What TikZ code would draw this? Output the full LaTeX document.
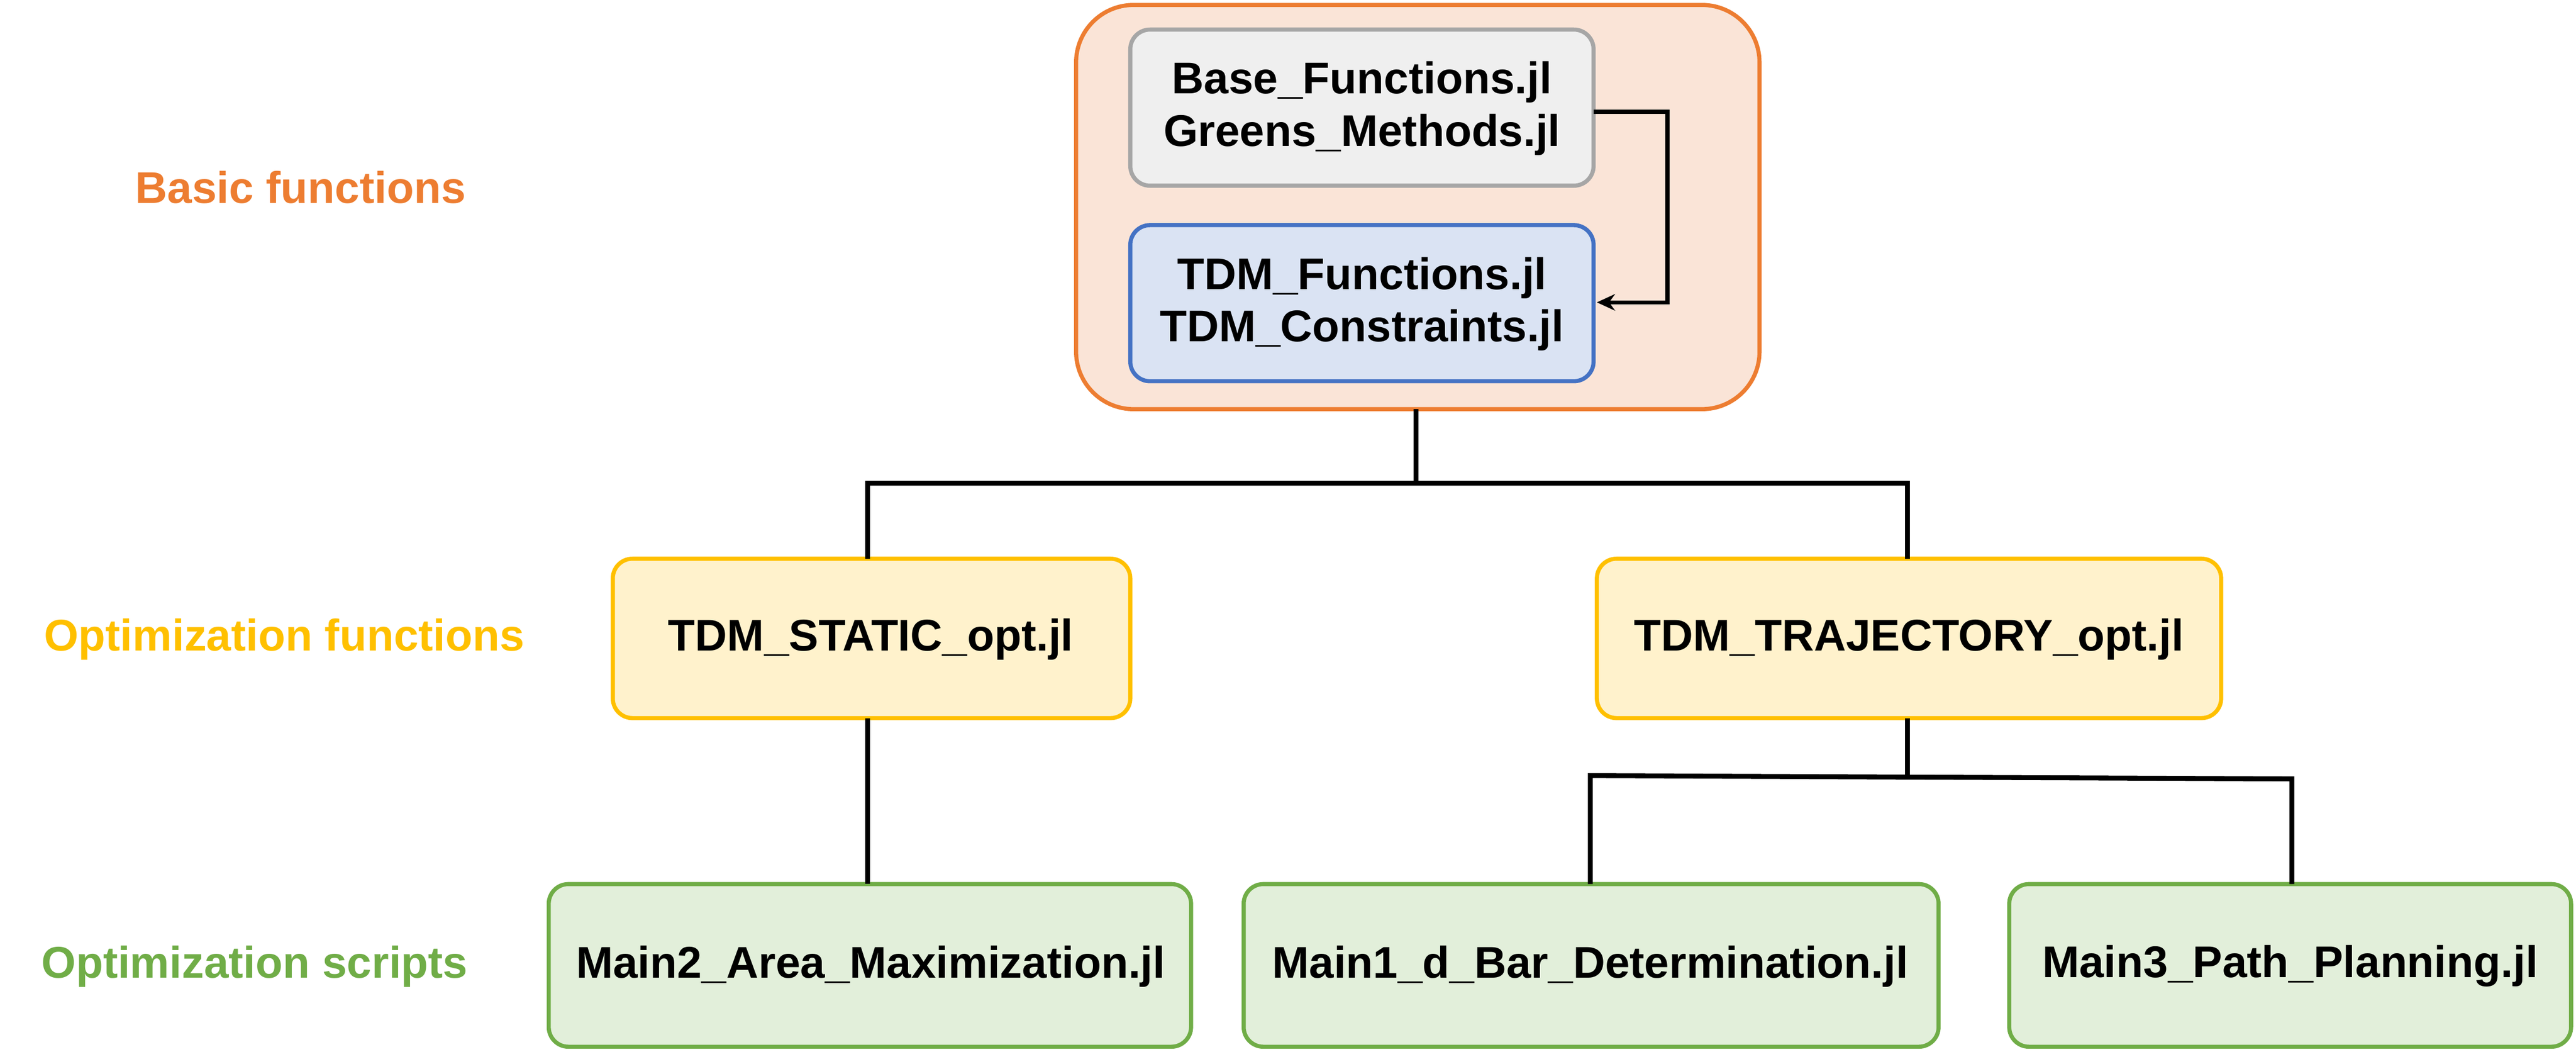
\documentclass[tikz,border=0pt]{standalone}
\usepackage{fontspec}
\setmainfont{Liberation Sans}
\usetikzlibrary{arrows.meta}
\definecolor{orB}{HTML}{ED7D31}\definecolor{orF}{HTML}{FAE4D7}
\definecolor{grB}{HTML}{A6A6A6}\definecolor{grF}{HTML}{EFEFEF}
\definecolor{blB}{HTML}{4472C4}\definecolor{blF}{HTML}{DAE3F3}
\definecolor{ylB}{HTML}{FFC000}\definecolor{ylF}{HTML}{FFF2CC}
\definecolor{gnB}{HTML}{70AD47}\definecolor{gnF}{HTML}{E2EFDA}
\begin{document}
\begin{tikzpicture}[x=1pt,y=-1pt,
 box/.style={draw=#1B,fill=#1F,line width=2.5pt,rounded corners=12pt},
 txt/.style={font=\fontsize{27}{32}\selectfont\bfseries,align=center},
 conn/.style={line width=3pt}]
\useasboundingbox (0,0) rectangle (1568,640);
\draw[box=or,rounded corners=35pt] (655,3) rectangle (1071,249);
\coordinate (outerB) at (862,249);
\draw[box=gr] (688,18) rectangle (970,113);
\node[txt] (base) at (829,66) {Base\_Functions.jl\\Greens\_Methods.jl};
\draw[box=bl] (688,137) rectangle (970,232);
\node[txt] (tdm) at (829,185) {TDM\_Functions.jl\\TDM\_Constraints.jl};
\coordinate (gR) at (970,68); \coordinate (bR) at (972,184);
\draw[line width=2.5pt,-{Stealth[length=11pt,width=10pt]}] (gR) -| (1015,184) -- (bR);
\draw[box=yl] (373,340) rectangle (688,437);
\node[txt] (st) at (530,389) {TDM\_STATIC\_opt.jl};
\draw[box=yl] (972,340) rectangle (1352,437);
\node[txt] (tr) at (1162,389) {TDM\_TRAJECTORY\_opt.jl};
\draw[box=gn] (334,538) rectangle (725,637);
\node[txt] (m2) at (530,588) {Main2\_Area\_Maximization.jl};
\draw[box=gn] (757,538) rectangle (1180,637);
\node[txt] (m1) at (968,588) {Main1\_d\_Bar\_Determination.jl};
\draw[box=gn] (1223,538) rectangle (1565,637);
\node[txt] (m3) at (1394,588) {Main3\_Path\_Planning.jl};
\draw[conn] (outerB) -- (862,294);
\draw[conn] (528,340) -- (528,294) -- (1161,294) -- (1161,340);
\draw[conn] (528,437) -- (528,538);
\draw[conn] (1161,437) -- (1161,472);
\draw[conn] (968,538) -- (968,472) -- (1395,474) -- (1395,538);
\node[txt,text=orB] (l1) at (183,114) {Basic functions};
\node[txt,text=ylB] (l2) at (173,389) {Optimization functions};
\node[txt,text=gnB] (l3) at (155,588) {Optimization scripts};
\end{tikzpicture}
\end{document}
